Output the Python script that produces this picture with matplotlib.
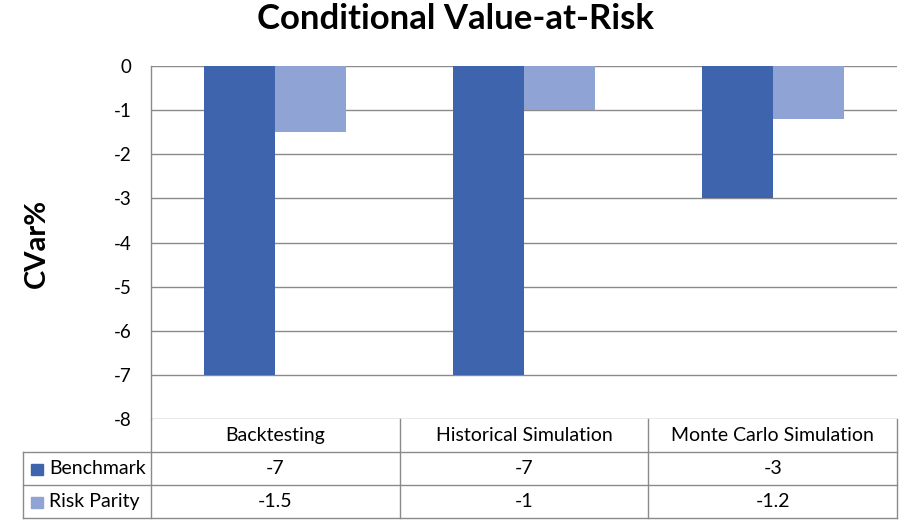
import matplotlib
matplotlib.use("Agg")
import matplotlib.pyplot as plt
import matplotlib.transforms as mtransforms
from matplotlib.lines import Line2D
from matplotlib.patches import Rectangle

categories = ["Backtesting", "Historical Simulation", "Monte Carlo Simulation"]
series_names = ["Benchmark", "Risk Parity"]
benchmark = [-7, -7, -3]
risk_parity = [-1.5, -1, -1.2]
table_labels = [["-7", "-7", "-3"], ["-1.5", "-1", "-1.2"]]
yticks = [0, -1, -2, -3, -4, -5, -6, -7, -8]

colors = ["#3D64AD", "#8FA3D4"]
grid_c = "#8A8A8A"
FONT = ["Lato", "DejaVu Sans"]
plt.rcParams["font.family"] = FONT

W, H = 910, 526
fig = plt.figure(figsize=(W / 100, H / 100), dpi=100)
L, R, T, B = 151, 897, 66, 419
ax = fig.add_axes([L / W, 1 - B / H, (R - L) / W, (B - T) / H])

x = list(range(len(categories)))
bw = 0.286
ax.bar([i - bw / 2 for i in x], benchmark, width=bw, color=colors[0], zorder=3)
ax.bar([i + bw / 2 for i in x], risk_parity, width=bw, color=colors[1], zorder=3)

ax.set_xlim(-0.5, len(categories) - 0.5)
ax.set_ylim(-8, 0)
ax.set_yticks(yticks)
ax.set_yticklabels([str(v) for v in yticks], fontsize=13.5)
ax.tick_params(axis="y", length=0, pad=14)
ax.tick_params(axis="x", length=0, labelbottom=False)
ax.set_xticks([])
ax.yaxis.grid(True, color=grid_c, linewidth=1)
ax.set_axisbelow(True)
for s in ["top", "right", "bottom"]:
    ax.spines[s].set_visible(False)
ax.spines["left"].set_color(grid_c)
ax.spines["left"].set_linewidth(1)

fig.text(0.5, 1 - 19 / H, "Conditional Value-at-Risk", ha="center", va="center",
         fontsize=25, fontweight="bold")
fig.text(37 / W, 1 - 243 / H, "CVar%", ha="center", va="center", rotation=90,
         fontsize=21, fontweight="bold")

# data table
blend = mtransforms.blended_transform_factory(ax.transData, ax.transAxes)
ah = B - T
row_h = 33 / ah
left_px = 23
left_data = -0.5 - (L - left_px) / ((R - L) / len(categories))
y_rows = [0, -33 / ah, -33 / ah - row_h, -33 / ah - 2 * row_h]
lkw = dict(color=grid_c, linewidth=1, transform=blend, clip_on=False)
for yy in y_rows[1:]:
    ax.add_line(Line2D([left_data, len(categories) - 0.5], [yy, yy], **lkw))
for xb in [i - 0.5 for i in range(len(categories) + 1)]:
    ax.add_line(Line2D([xb, xb], [y_rows[0], y_rows[-1]], **lkw))
ax.add_line(Line2D([left_data, left_data], [y_rows[1], y_rows[-1]], **lkw))

for i, c in enumerate(categories):
    ax.text(i, (y_rows[0] + y_rows[1]) / 2, c, transform=blend, ha="center",
            va="center", fontsize=14)
for r, name in enumerate(series_names):
    yc = (y_rows[r + 1] + y_rows[r + 2]) / 2
    for i in range(len(categories)):
        ax.text(i, yc, table_labels[r][i], transform=blend, ha="center",
                va="center", fontsize=14)
    fig.patches.append(Rectangle((31 / W, 1 - (B + 33 + 33 * r + 23) / H), 12 / W, 11 / H,
                                 transform=fig.transFigure, color=colors[r]))
    fig.text(49 / W, 1 - (B + 33 + 33 * r + 17) / H, name, ha="left", va="center",
             fontsize=14)

fig.savefig("out.png", dpi=100)
